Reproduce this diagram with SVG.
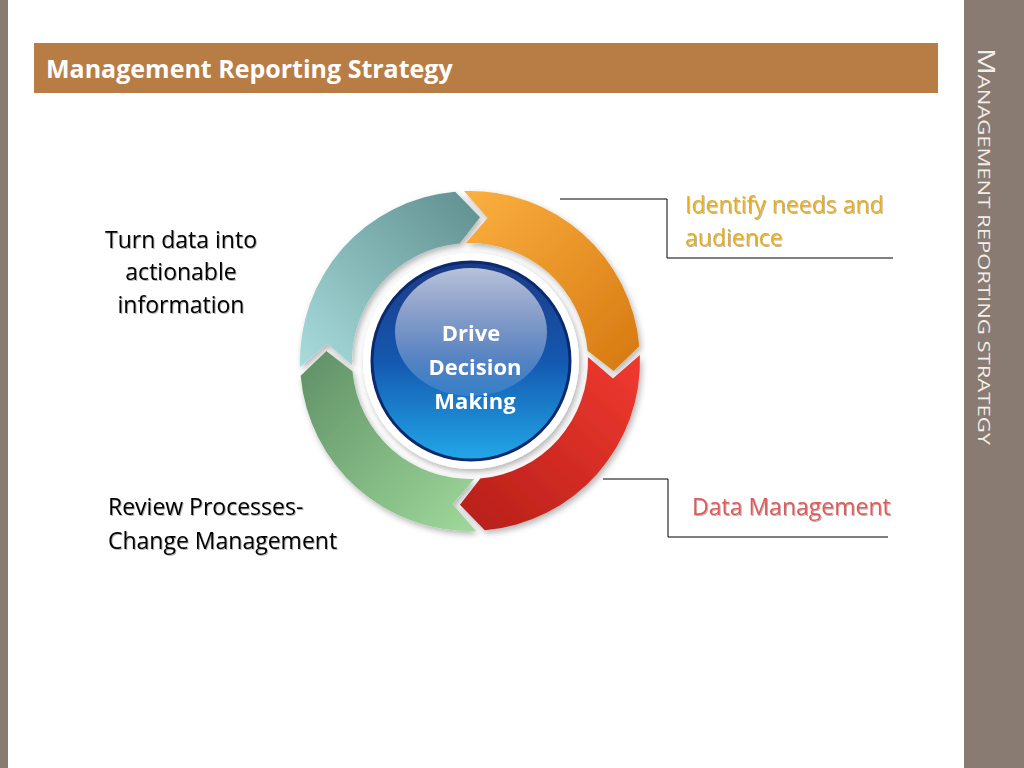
<svg xmlns="http://www.w3.org/2000/svg" width="1024" height="768" viewBox="0 0 1024 768">
<style>
.lbl{font-family:"Open Sans","Liberation Sans",sans-serif;font-size:23px;filter:url(#ts)}
.ctr{font-family:"Open Sans","Liberation Sans",sans-serif;font-size:22px;font-weight:bold;fill:#fff;text-anchor:middle}
.ln{fill:none;stroke:#000;stroke-width:1}
</style>
<defs>
<filter id="ts" x="-5%" y="-20%" width="110%" height="140%"><feDropShadow dx="1" dy="1" stdDeviation="0.6" flood-color="#000" flood-opacity="0.3"/></filter>
<filter id="sh" x="-20%" y="-20%" width="140%" height="140%"><feDropShadow dx="2" dy="3" stdDeviation="3" flood-color="#000" flood-opacity="0.3"/></filter>
<linearGradient id="gO" x1="0" y1="0" x2="1" y2="1"><stop offset="0" stop-color="#fbb040"/><stop offset="1" stop-color="#d67810"/></linearGradient>
<linearGradient id="gR" x1="0" y1="0" x2="1" y2="1"><stop offset="0" stop-color="#f03a30"/><stop offset="1" stop-color="#b51e18"/></linearGradient>
<linearGradient id="gG" x1="0" y1="0" x2="1" y2="1"><stop offset="0" stop-color="#9fd99a"/><stop offset="1" stop-color="#5f8f66"/></linearGradient>
<linearGradient id="gT" x1="0" y1="0" x2="1" y2="1"><stop offset="0" stop-color="#a8dcdc"/><stop offset="1" stop-color="#5f8e8e"/></linearGradient>
<linearGradient id="gB" x1="0" y1="0" x2="0" y2="1"><stop offset="0" stop-color="#1c3a86"/><stop offset="0.5" stop-color="#1458b0"/><stop offset="1" stop-color="#22a8e8"/></linearGradient>
<linearGradient id="gH" x1="0" y1="0" x2="0" y2="1"><stop offset="0" stop-color="#c8d0e4" stop-opacity="0.9"/><stop offset="1" stop-color="#c8d0e4" stop-opacity="0.15"/></linearGradient>
<path id="seg" d="M 464.07 191.1 A 170 170 0 0 1 639.35 346.18 L 613.65 371.05 L 587.55 350.71 A 118 118 0 0 0 465.88 243.07 L 487.55 218.08 Z"/>
</defs>
<rect width="1024" height="768" fill="#fff"/>
<rect x="0" y="0" width="8" height="768" fill="#8a7b72"/>
<rect x="964" y="0" width="60" height="768" fill="#8a7b72"/>
<text transform="translate(978,48) rotate(90)" font-family="Open Sans,Liberation Sans,sans-serif" fill="#f2eeea" textLength="397" lengthAdjust="spacingAndGlyphs"><tspan font-size="23">M</tspan><tspan font-size="17">ANAGEMENT REPORTING STRATEGY</tspan></text>
<g id="title"><rect x="34" y="43" width="904" height="50" fill="#b87d45"/>
<text x="46" y="78" font-family="Open Sans,Liberation Sans,sans-serif" font-size="25" font-weight="bold" fill="#fff">Management Reporting Strategy</text></g>
<g id="cycle" filter="url(#sh)">
<use href="#seg" fill="url(#gO)"/>
<use href="#seg" fill="url(#gR)" transform="rotate(90 470 361)"/>
<use href="#seg" fill="url(#gG)" transform="rotate(180 470 361)"/>
<use href="#seg" fill="url(#gT)" transform="rotate(270 470 361)"/>
</g>
<g id="center">
<circle cx="471" cy="361" r="108" fill="#fff" filter="url(#sh)"/>
<circle cx="471" cy="361" r="99" fill="url(#gB)" stroke="#0b2a6e" stroke-width="3"/>
<ellipse cx="471" cy="332" rx="76" ry="64" fill="url(#gH)"/>
<text class="ctr" x="471" y="341">Drive</text>
<text class="ctr" x="475" y="375">Decision</text>
<text class="ctr" x="475" y="409">Making</text>
</g>
<g id="connectors">
<polyline class="ln" points="560,199 667,199 667,258 893,258"/>
<polyline class="ln" points="603,479 668,479 668,537 888,537"/>
</g>
<g id="n1"><text class="lbl" x="685" y="213" fill="#e6ae1c">Identify needs and</text><text class="lbl" x="685" y="246" fill="#e6ae1c">audience</text></g>
<g id="n2"><text class="lbl" x="692" y="515" fill="#e05a5a">Data Management</text></g>
<g id="n3"><text class="lbl" x="108" y="515">Review Processes-</text><text class="lbl" x="108" y="549">Change Management</text></g>
<g id="n4" text-anchor="middle"><text class="lbl" x="181" y="248">Turn data into</text><text class="lbl" x="181" y="280">actionable</text><text class="lbl" x="181" y="313">information</text></g>
</svg>
